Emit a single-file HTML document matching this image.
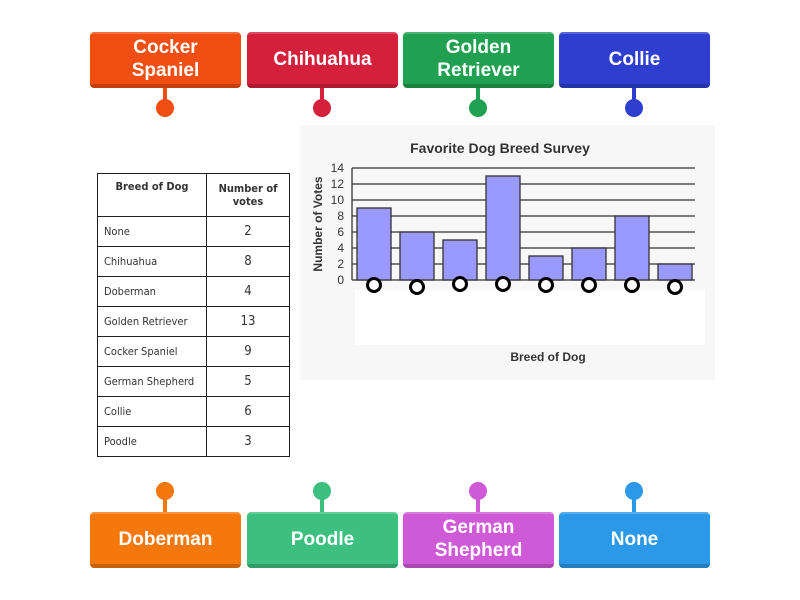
<!DOCTYPE html>
<html><head><meta charset="utf-8"><style>
body{margin:0;width:800px;height:600px;background:#fff;position:relative;overflow:hidden;font-family:"Liberation Sans",sans-serif}
.btn{position:absolute;width:151px;height:56px;border-radius:4px;color:#fff;font-weight:bold;font-size:19px;line-height:23px;display:flex;align-items:center;justify-content:center;text-align:center;box-sizing:border-box;border-bottom:4px solid rgba(0,0,0,.18);border-top:2px solid rgba(255,255,255,.2)}
.stem{position:absolute;width:4px;height:14px}
.dot{position:absolute;width:18px;height:18px;border-radius:50%}
table{position:absolute;left:97px;top:173px;border-collapse:collapse;font-size:11px;color:#333;font-family:"DejaVu Sans Condensed","Liberation Sans",sans-serif}
td{border:1.5px solid #222;height:29px;padding:0 6px}
</style></head><body>
<div id="btns"></div>
<table>
<tr style="font-weight:bold"><td style="width:96px;height:36px;text-align:center;vertical-align:top;padding-top:6px">Breed of Dog</td><td style="width:70px;text-align:center">Number of votes</td></tr>
<tr><td>None</td><td style="text-align:center;font-size:13px">2</td></tr>
<tr><td>Chihuahua</td><td style="text-align:center;font-size:13px">8</td></tr>
<tr><td>Doberman</td><td style="text-align:center;font-size:13px">4</td></tr>
<tr><td>Golden Retriever</td><td style="text-align:center;font-size:13px">13</td></tr>
<tr><td>Cocker Spaniel</td><td style="text-align:center;font-size:13px">9</td></tr>
<tr><td>German Shepherd</td><td style="text-align:center;font-size:13px">5</td></tr>
<tr><td>Collie</td><td style="text-align:center;font-size:13px">6</td></tr>
<tr><td>Poodle</td><td style="text-align:center;font-size:13px">3</td></tr>
</table>
<svg id="chart" style="position:absolute;left:0;top:0" width="800" height="600">
<rect x="300" y="125" width="415" height="255" fill="#f7f7f7"/>
<rect x="355" y="290" width="350" height="55" fill="#fff"/>
<text x="500" y="153" text-anchor="middle" font-size="14" font-weight="bold" fill="#333">Favorite Dog Breed Survey</text>
<text x="548" y="361" text-anchor="middle" font-size="12" font-weight="bold" fill="#333">Breed of Dog</text>
<text transform="translate(322,224) rotate(-90)" text-anchor="middle" font-size="12" font-weight="bold" fill="#333">Number of Votes</text>
<g id="g"></g>
</svg>
<script>
const values=[9,6,5,13,3,4,8,2];
const yTicks=[0,2,4,6,8,10,12,14];
const circleOffsets=[0,2,-1,-1,0,0,0,2];
const x0=352,x1=695,yb=280,yt=168;
const ys=v=>yb-(yb-yt)*v/14;
const xs=i=>357+i*43;
const ns="http://www.w3.org/2000/svg",g=document.getElementById('g');
function mk(t,a){const e=document.createElementNS(ns,t);for(const k in a)e.setAttribute(k,a[k]);g.appendChild(e);return e;}
yTicks.forEach(t=>{
 const l=mk('line',{x1:x0,x2:x1,y1:ys(t),y2:ys(t),stroke:'#333','stroke-width':1.3});
 
 
 const tx=mk('text',{x:344,y:ys(t)+4,'text-anchor':'end','font-size':12,fill:'#333'});tx.textContent=t;
 
 
});
mk('line',{x1:x0,x2:x0,y1:yt,y2:yb,stroke:'#333','stroke-width':1.3});
values.forEach((v,i)=>{
 const r=mk('rect',{x:xs(i),y:ys(v),width:34,height:yb-ys(v),fill:'#9999ff',stroke:'#333','stroke-width':1.3});
 
 
});
values.forEach((v,i)=>{
 const c=mk('circle',{cx:xs(i)+17,cy:285+circleOffsets[i],r:6.5,fill:'#fff',stroke:'#000','stroke-width':3});
 
 
});
const labels=[["Cocker<br>Spaniel","#f04e12",90,0],["Chihuahua","#d5203c",247,0],["Golden<br>Retriever","#20a050",403,0],["Collie","#2e3fd0",559,0],
["Doberman","#f5780c",90,1],["Poodle","#3dc07f",247,1],["German<br>Shepherd","#cf5ad8",403,1],["None","#2c99e8",559,1]];
const B=document.getElementById('btns');
labels.forEach(([t,c,x,bot])=>{
 const top=bot?512:32;
 const d=document.createElement('div');d.className='btn';d.style.cssText=`left:${x}px;top:${top}px;background:${c}`;d.innerHTML=t;
 
 
 B.appendChild(d);
 const s=document.createElement('div');s.className='stem';s.style.cssText=`left:${x+73}px;top:${bot?498:88}px;background:${c}`;
 
 
 B.appendChild(s);
 const o=document.createElement('div');o.className='dot';o.style.cssText=`left:${x+66}px;top:${bot?482:99}px;background:${c}`;
 
 
 B.appendChild(o);
});
</script>
</body></html>
